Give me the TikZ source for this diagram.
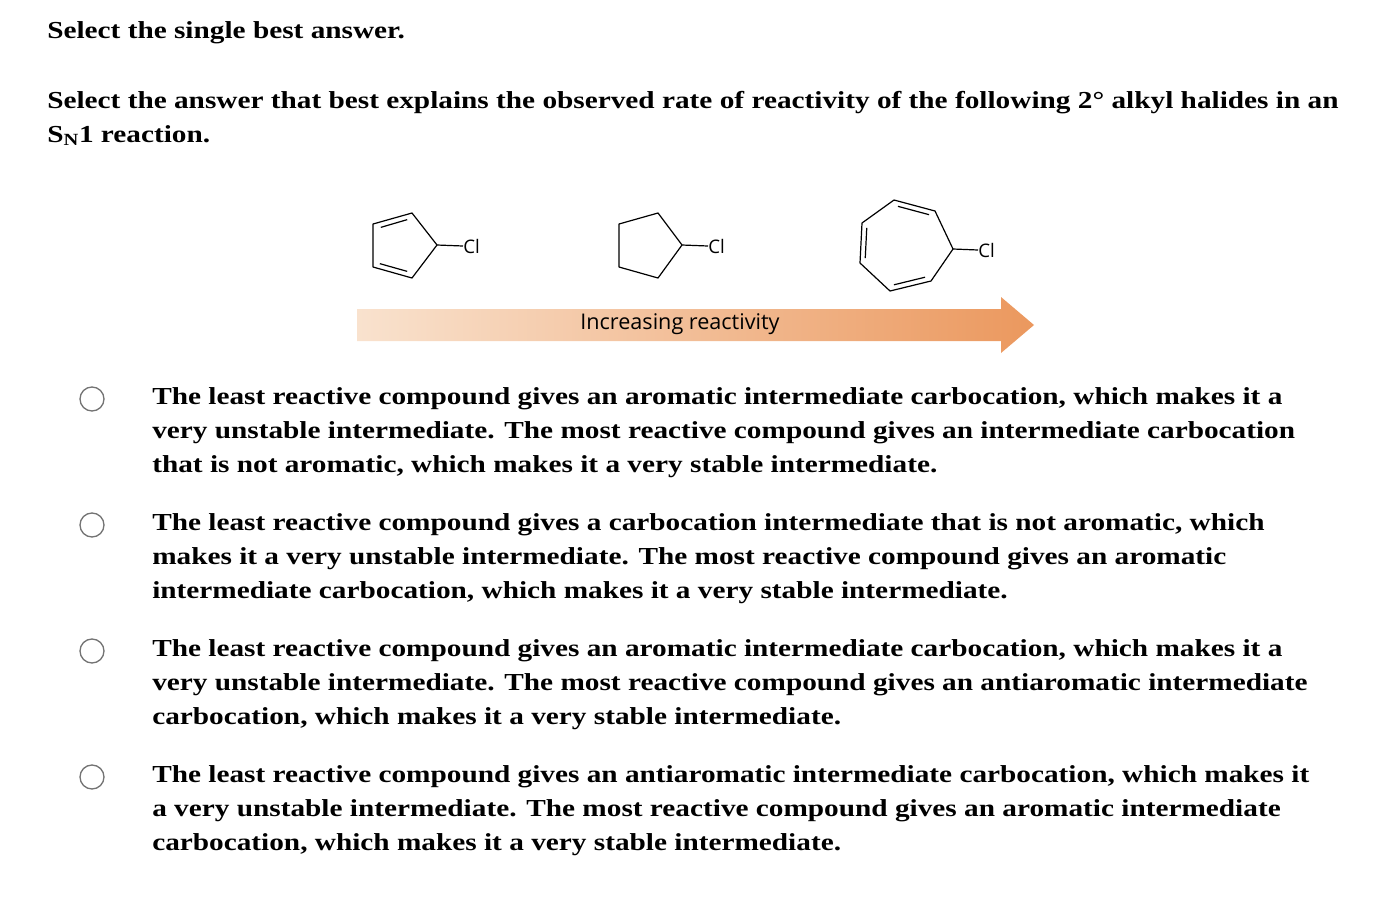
\documentclass[tikz,border=0pt]{standalone}
\usepackage{fontspec}
\setmainfont[FakeStretch=1.2]{Liberation Serif}
\newfontfamily\labfont{Open Sans}
\usetikzlibrary{calc}
\definecolor{arL}{RGB}{249,226,206}
\definecolor{arR}{RGB}{235,152,94}
\begin{document}
\begin{tikzpicture}[x=0.75pt,y=-0.75pt,
  txt/.style={anchor=base west,inner sep=0pt,font=\bfseries\fontsize{18.3}{20}\selectfont},
  radio/.style={draw=black!55,line width=1pt,circle,minimum size=18pt,inner sep=0pt},
  bond/.style={line width=0.9pt,line join=round},
  cl/.style={inner sep=0pt,font=\labfont\fontsize{14}{16}\selectfont}]
\useasboundingbox (0,0) rectangle (1381,908);
\node[txt] (t0) at (47,38) {Select the single best answer.};
\node[txt] (t1) at (47,108) {Select the answer that best explains the observed rate of reactivity of the following 2° alkyl halides in an};
\node[txt] (t2) at (47,142) {S\textsubscript{N}1 reaction.};
% cyclopentadiene
\draw[bond] (412,213)--(373,224)--(373,267)--(412,278)--(437,245)--cycle;
\draw[bond] ($(412,213)!0.15!(373,224)+(1,5)$)--($(373,224)!0.15!(412,213)+(2,5)$);
\draw[bond] ($(373,267)!0.15!(412,278)+(1,-5)$)--($(412,278)!0.15!(373,267)+(1,-5)$);
\coordinate (c1) at (437,245);
\node[cl,anchor=west] (cl1) at (463,246) {Cl};
\draw[bond] (c1)--(cl1.west);
% cyclopentane
\draw[bond] (658,213)--(619,224)--(619,267)--(658,278)--(682,245)--cycle;
\coordinate (c2) at (682,245);
\node[cl,anchor=west] (cl2) at (708,246) {Cl};
\draw[bond] (c2)--(cl2.west);
% cycloheptatriene
\draw[bond] (894,200)--(935,211)--(953,249)--(931,281)--(890,291)--(860,263)--(862,223)--cycle;
\draw[bond] ($(894,200)!0.12!(935,211)+(-1,5)$)--($(935,211)!0.12!(894,200)+(-1,5)$);
\draw[bond] ($(862,223)!0.12!(860,263)+(5,0)$)--($(860,263)!0.12!(862,223)+(5,0)$);
\draw[bond] ($(931,281)!0.12!(890,291)+(-1,-5)$)--($(890,291)!0.12!(931,281)+(-1,-5)$);
\coordinate (c3) at (953,249);
\node[cl,anchor=west] (cl3) at (978,250) {Cl};
\draw[bond] (c3)--(cl3.west);
% arrow
\shade[left color=arL,right color=arR]
  (357,309)--(1001,309)--(1001,297)--(1034,325)--(1001,353)--(1001,341)--(357,341)--cycle;
\node[font=\labfont\fontsize{16.2}{18}\selectfont] (lab) at (680,324) {Increasing reactivity};
% options
\foreach \y/\a/\b/\c [count=\i] in {
 397/{The least reactive compound gives an aromatic intermediate carbocation, which makes it a}/{very unstable intermediate. The most reactive compound gives an intermediate carbocation}/{that is not aromatic, which makes it a very stable intermediate.},
 523/{The least reactive compound gives a carbocation intermediate that is not aromatic, which}/{makes it a very unstable intermediate. The most reactive compound gives an aromatic}/{intermediate carbocation, which makes it a very stable intermediate.},
 649/{The least reactive compound gives an aromatic intermediate carbocation, which makes it a}/{very unstable intermediate. The most reactive compound gives an antiaromatic intermediate}/{carbocation, which makes it a very stable intermediate.},
 775/{The least reactive compound gives an antiaromatic intermediate carbocation, which makes it}/{a very unstable intermediate. The most reactive compound gives an aromatic intermediate}/{carbocation, which makes it a very stable intermediate.}}{
  \node[radio] (r\i) at (92,\y+2) {};
  \node[txt] (o\i a) at (152,\y+7) {\a};
  \node[txt] (o\i b) at (152,\y+41) {\b};
  \node[txt] (o\i c) at (152,\y+75) {\c};
}
\end{tikzpicture}
\end{document}
